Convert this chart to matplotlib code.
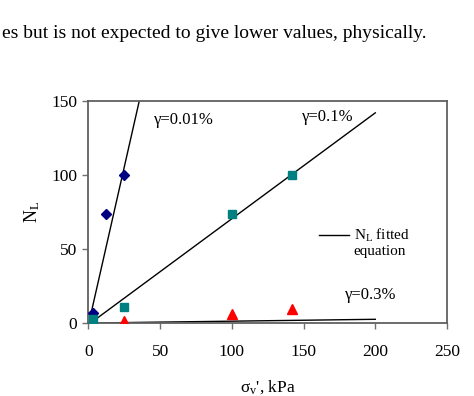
import numpy as np
import matplotlib
matplotlib.use("Agg")
import matplotlib.pyplot as plt

plt.rcParams['font.family'] = ['Liberation Serif', 'DejaVu Serif']
plt.rcParams['mathtext.fontset'] = 'custom'
plt.rcParams['mathtext.rm'] = 'Liberation Serif'
plt.rcParams['mathtext.it'] = 'Liberation Serif:italic'

# measured points, sigma_v' (kPa) vs N_L
sv_001 = [3, 12, 25]
nl_001 = [7, 74, 100]
sv_01 = [3, 25, 100, 142]
nl_01 = [3, 11, 74, 100]
sv_03 = [25, 100, 142]
nl_03 = [1.5, 6.2, 9.6]

# fitted equation lines (end points)
fit_x_001 = [2.2, 35.4]
fit_y_001 = [8.5, 150]
fit_x_01 = [3.3, 200]
fit_y_01 = [1.5, 142]
fit_x_03 = [3, 200]
fit_y_03 = [0.2, 2.7]

xticks = [0, 50, 100, 150, 200, 250]
yticks = [0, 50, 100, 150]

fig = plt.figure(figsize=(4.74, 3.96), dpi=100)
ax = fig.add_axes([0.1867, 0.1836, 0.7563, 0.5614])

ax.plot(fit_x_001, fit_y_001, color='black', lw=1.0, zorder=2)
ax.plot(fit_x_01, fit_y_01, color='black', lw=1.0, zorder=2)
ax.plot(fit_x_03, fit_y_03, color='black', lw=1.0, zorder=2)

ax.plot(sv_001, nl_001, 'D', color='#000080', ms=5, ls='none', zorder=3)
ax.plot(sv_01, nl_01, 's', color='#008080', ms=6, ls='none', zorder=3)
ax.plot(sv_03, nl_03, '^', color='#ff0000', ms=7, ls='none', zorder=3)

ax.set_xlim(0, 250)
ax.set_ylim(0, 150)
ax.set_xticks(xticks)
ax.set_yticks(yticks)
ax.tick_params(labelsize=12.5, length=4, width=1, color='#707070', pad=11)
ax.tick_params(axis='y', pad=4)
for s in ax.spines.values():
    s.set_color('#606060')
    s.set_linewidth(1.3)

ax.set_xlabel("σ$_\\mathregular{v}$', kPa", fontsize=12.5, labelpad=13)
ax.set_ylabel("N$_\\mathregular{L}$", fontsize=13, labelpad=7)

ax.text(46, 137, "γ=0.01%", fontsize=12, va='center')
ax.text(149, 139, "γ=0.1%", fontsize=12, va='center')
ax.text(179, 19, "γ=0.3%", fontsize=12, va='center')

# legend-like entry
ax.plot([161, 182], [59.5, 59.5], color='black', lw=1.0)
ax.text(185, 59.5, "N$_\\mathregular{L}$ fitted", fontsize=11, va='center')
ax.text(185, 48.5, "equation", fontsize=11, va='center')

fig.text(0.004, 0.916, "es but is not expected to give lower values, physically.",
         fontsize=14.0, va='center', ha='left')

fig.savefig("out.png", dpi=100)
